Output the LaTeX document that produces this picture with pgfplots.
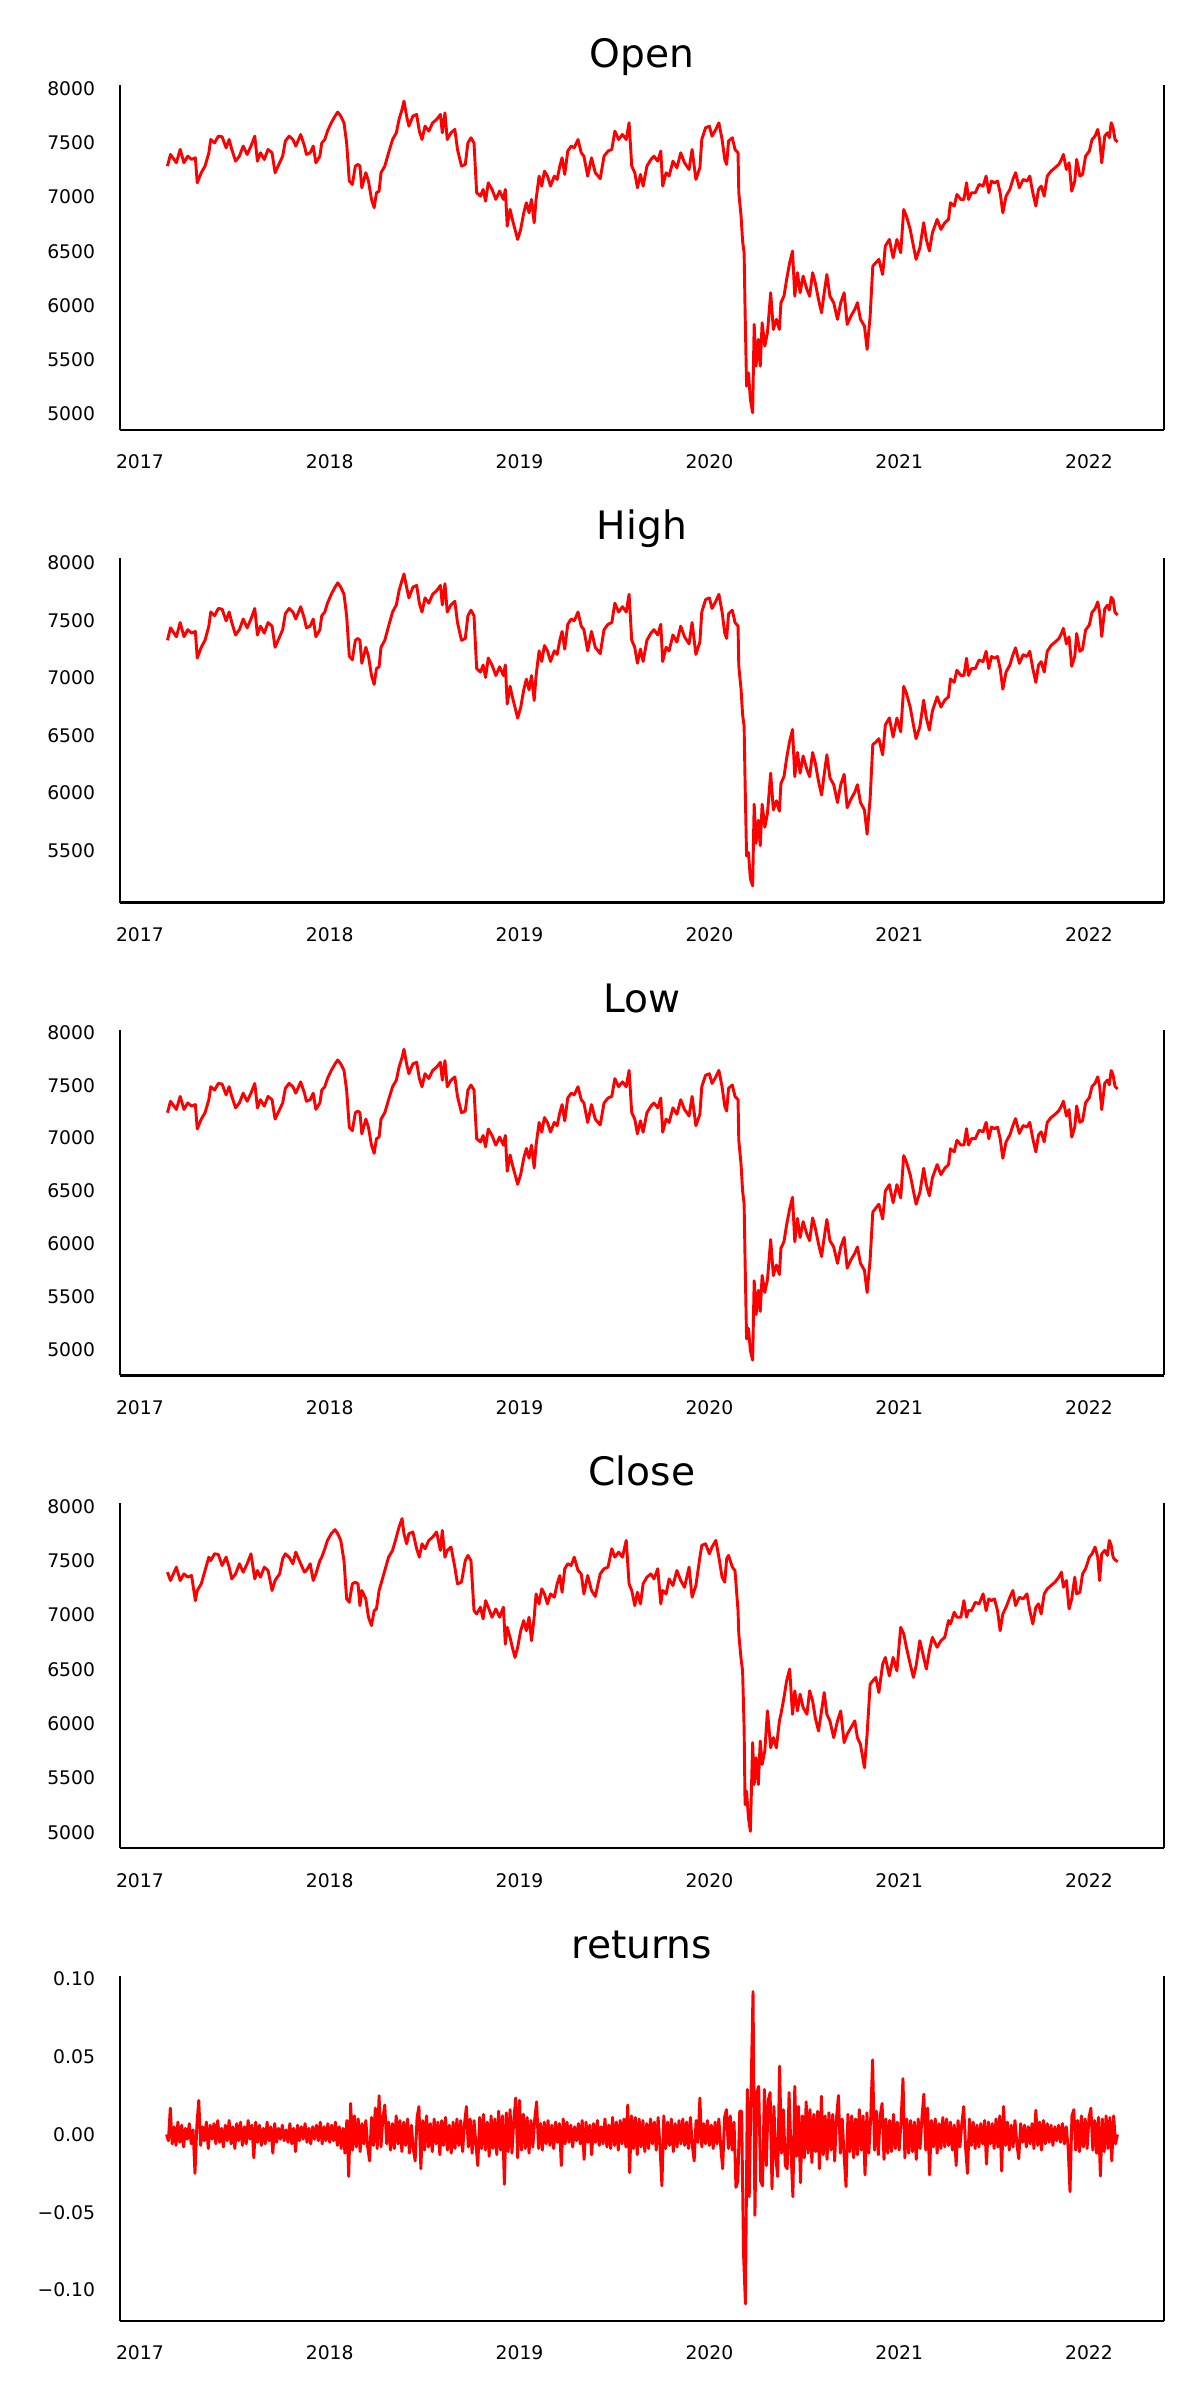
\documentclass[border=0pt]{standalone}
\usepackage{fontspec}
\setmainfont{DejaVu Sans}
\usepackage{pgfplots}
\usepackage{pgfplotstable}
\pgfplotsset{compat=1.18}

\pgfplotstableread{
x o h l c
2017.145 7286 7326 7241 7394
2017.161 7394 7434 7349 7317
2017.192 7317 7357 7272 7440
2017.212 7440 7480 7395 7317
2017.232 7317 7357 7272 7378
2017.252 7378 7418 7333 7348
2017.272 7348 7388 7303 7363
2017.292 7363 7403 7318 7132
2017.302 7132 7172 7087 7225
2017.323 7225 7265 7180 7286
2017.343 7286 7326 7241 7409
2017.363 7409 7449 7364 7532
2017.373 7532 7572 7487 7500
2017.393 7500 7540 7455 7563
2017.413 7563 7603 7518 7557
2017.433 7557 7597 7512 7455
2017.454 7455 7495 7410 7532
2017.470 7532 7572 7487 7440
2017.484 7440 7480 7395 7332
2017.504 7332 7372 7287 7378
2017.524 7378 7418 7333 7471
2017.544 7471 7511 7426 7394
2017.565 7394 7434 7349 7471
2017.585 7471 7511 7426 7563
2017.605 7563 7603 7518 7332
2017.619 7332 7372 7287 7409
2017.635 7409 7449 7364 7348
2017.655 7348 7388 7303 7440
2017.675 7440 7480 7395 7409
2017.696 7409 7449 7364 7225
2017.712 7225 7265 7180 7317
2017.736 7317 7357 7272 7378
2017.752 7378 7418 7333 7517
2017.766 7517 7557 7472 7563
2017.786 7563 7603 7518 7532
2017.806 7532 7572 7487 7471
2017.821 7471 7511 7426 7578
2017.847 7578 7618 7533 7471
2017.867 7471 7511 7426 7394
2017.877 7394 7434 7349 7409
2017.897 7409 7449 7364 7471
2017.913 7471 7511 7426 7317
2017.927 7317 7357 7272 7378
2017.948 7378 7418 7333 7500
2017.958 7500 7540 7455 7532
2017.974 7532 7572 7487 7609
2017.988 7609 7649 7564 7686
2018.008 7686 7726 7641 7748
2018.028 7748 7788 7703 7785
2018.042 7785 7825 7740 7748
2018.058 7748 7788 7703 7686
2018.075 7686 7726 7641 7500
2018.089 7500 7540 7455 7148
2018.103 7148 7188 7103 7117
2018.119 7117 7157 7072 7286
2018.135 7286 7326 7241 7302
2018.149 7302 7342 7257 7286
2018.159 7286 7326 7241 7086
2018.169 7086 7126 7041 7225
2018.190 7225 7265 7180 7148
2018.204 7148 7188 7103 6979
2018.220 6979 7019 6934 6902
2018.234 6902 6942 6857 7040
2018.246 7040 7080 6995 7055
2018.260 7055 7095 7010 7225
2018.270 7225 7265 7180 7286
2018.290 7286 7326 7241 7409
2018.310 7409 7449 7364 7532
2018.331 7532 7572 7487 7594
2018.351 7594 7634 7549 7717
2018.365 7717 7757 7672 7809
2018.381 7809 7849 7764 7886
2018.391 7886 7903 7841 7748
2018.405 7748 7788 7703 7655
2018.417 7655 7695 7610 7748
2018.438 7748 7788 7703 7763
2018.458 7763 7803 7718 7609
2018.472 7609 7649 7564 7532
2018.486 7532 7572 7487 7655
2018.502 7655 7695 7610 7609
2018.522 7609 7649 7564 7686
2018.542 7686 7726 7641 7717
2018.563 7717 7757 7672 7763
2018.583 7763 7803 7718 7594
2018.593 7594 7634 7549 7778
2018.607 7778 7818 7733 7532
2018.619 7532 7572 7487 7594
2018.639 7594 7634 7549 7625
2018.659 7625 7665 7580 7440
2018.673 7440 7480 7395 7286
2018.694 7286 7326 7241 7302
2018.714 7302 7342 7257 7500
2018.728 7500 7540 7455 7548
2018.744 7548 7588 7503 7500
2018.760 7500 7540 7455 7040
2018.774 7040 7080 6995 7009
2018.794 7009 7049 6964 7071
2018.808 7071 7111 7026 6963
2018.821 6963 7003 6918 7132
2018.835 7132 7172 7087 7071
2018.855 7071 7111 7026 6979
2018.875 6979 7019 6934 7055
2018.895 7055 7095 7010 6979
2018.915 6979 7019 6934 7071
2018.925 7071 7111 7026 6732
2018.935 6732 6772 6687 6886
2018.950 6886 6926 6841 6794
2018.962 6794 6834 6749 6702
2018.976 6702 6742 6657 6609
2018.990 6609 6649 6564 6702
2019.006 6702 6742 6657 6855
2019.022 6855 6895 6810 6948
2019.036 6948 6988 6903 6855
2019.050 6855 6895 6810 6979
2019.063 6979 7019 6934 6763
2019.077 6763 6803 6718 6979
2019.087 6979 7019 6934 7194
2019.103 7194 7234 7149 7102
2019.117 7102 7142 7057 7240
2019.131 7240 7280 7195 7194
2019.147 7194 7234 7149 7102
2019.163 7102 7142 7057 7194
2019.183 7194 7234 7149 7163
2019.198 7163 7203 7118 7286
2019.212 7286 7326 7241 7363
2019.224 7363 7403 7318 7209
2019.238 7209 7249 7164 7425
2019.254 7425 7465 7380 7471
2019.272 7471 7511 7426 7455
2019.288 7455 7495 7410 7532
2019.308 7532 7572 7487 7409
2019.325 7409 7449 7364 7378
2019.339 7378 7418 7333 7194
2019.359 7194 7234 7149 7363
2019.379 7363 7403 7318 7225
2019.399 7225 7265 7180 7170
2019.425 7170 7210 7125 7378
2019.445 7378 7418 7333 7425
2019.466 7425 7465 7380 7440
2019.486 7440 7480 7395 7609
2019.502 7609 7649 7564 7532
2019.522 7532 7572 7487 7578
2019.542 7578 7618 7533 7532
2019.562 7532 7572 7487 7686
2019.577 7686 7726 7641 7286
2019.591 7286 7326 7241 7225
2019.607 7225 7265 7180 7086
2019.621 7086 7126 7041 7209
2019.637 7209 7249 7164 7102
2019.651 7102 7142 7057 7286
2019.671 7286 7326 7241 7348
2019.692 7348 7388 7303 7378
2019.708 7378 7418 7333 7332
2019.728 7332 7372 7287 7425
2019.744 7425 7465 7380 7102
2019.754 7102 7142 7057 7225
2019.772 7225 7265 7180 7194
2019.788 7194 7234 7149 7332
2019.808 7332 7372 7287 7271
2019.829 7271 7311 7226 7409
2019.849 7409 7449 7364 7317
2019.869 7317 7357 7272 7255
2019.893 7255 7295 7210 7440
2019.909 7440 7480 7395 7163
2019.929 7163 7203 7118 7271
2019.950 7271 7311 7226 7532
2019.960 7532 7572 7487 7640
2019.980 7640 7680 7595 7655
2020.000 7655 7695 7610 7563
2020.014 7563 7603 7518 7625
2020.034 7625 7665 7580 7686
2020.050 7686 7726 7641 7532
2020.067 7532 7572 7487 7348
2020.081 7348 7388 7303 7302
2020.091 7302 7342 7257 7517
2020.101 7517 7557 7472 7548
2020.121 7548 7588 7503 7440
2020.135 7440 7480 7395 7409
2020.151 7409 7449 7364 7040
2020.155 7040 7100 6980 6825
2020.167 6825 6900 6750 6594
2020.175 6594 6680 6500 6486
2020.183 6486 6580 6380 5963
2020.188 5963 6100 5850 5255
2020.196 5255 5450 5100 5378
2020.206 5378 5480 5200 5132
2020.216 5132 5250 4990 5009
2020.228 5009 5190 4900 5825
2020.236 5825 5900 5650 5440
2020.246 5440 5560 5330 5686
2020.258 5686 5760 5560 5440
2020.268 5440 5540 5360 5840
2020.278 5840 5900 5700 5625
2020.292 5625 5700 5540 5748
2020.306 5748 5820 5660 6117
2020.323 6117 6170 6040 5778
2020.337 5778 5850 5700 5871
2020.353 5871 5930 5800 5778
2020.369 5778 5840 5710 6025
2020.377 6025 6080 5960 6086
2020.393 6086 6140 6020 6240
2020.407 6240 6300 6180 6394
2020.423 6394 6450 6330 6502
2020.438 6502 6550 6440 6086
2020.450 6086 6140 6020 6302
2020.464 6302 6350 6240 6117
2020.478 6117 6170 6060 6271
2020.494 6271 6320 6210 6148
2020.514 6148 6200 6090 6086
2020.528 6086 6140 6030 6302
2020.544 6302 6350 6245 6209
2020.558 6209 6260 6150 6055
2020.575 6055 6100 6000 5932
2020.591 5932 5980 5880 6117
2020.605 6117 6160 6060 6286
2020.619 6286 6330 6230 6086
2020.635 6086 6130 6030 6025
2020.655 6025 6070 5970 5871
2020.675 5871 5915 5815 6025
2020.692 6025 6070 5970 6117
2020.710 6117 6160 6060 5825
2020.726 5825 5870 5770 5902
2020.746 5902 5945 5850 5963
2020.766 5963 6005 5910 6025
2020.780 6025 6070 5970 5871
2020.796 5871 5915 5815 5809
2020.817 5809 5850 5750 5594
2020.831 5594 5640 5540 5902
2020.847 5902 5950 5850 6363
2020.861 6363 6420 6300 6394
2020.877 6394 6440 6340 6425
2020.893 6425 6470 6375 6286
2020.913 6286 6330 6235 6548
2020.927 6548 6590 6500 6609
2020.948 6609 6650 6560 6440
2020.968 6440 6485 6390 6609
2020.988 6609 6650 6560 6486
2021.008 6486 6530 6435 6886
2021.024 6886 6925 6835 6825
2021.038 6825 6865 6775 6702
2021.058 6702 6745 6655 6548
2021.075 6548 6590 6500 6425
2021.089 6425 6470 6375 6532
2021.109 6532 6575 6485 6763
2021.129 6763 6805 6715 6609
2021.143 6609 6650 6560 6502
2021.159 6502 6545 6455 6671
2021.175 6671 6710 6625 6794
2021.200 6794 6835 6750 6702
2021.220 6702 6745 6655 6763
2021.240 6763 6805 6715 6794
2021.260 6794 6835 6750 6948
2021.270 6948 6990 6900 6917
2021.290 6917 6960 6870 7025
2021.304 7025 7065 6980 6979
2021.325 6979 7020 6935 6979
2021.341 6979 7020 6935 7132
2021.355 7132 7170 7090 6979
2021.365 6979 7020 6935 7040
2021.381 7040 7080 6995 7040
2021.401 7040 7080 6995 7117
2021.421 7117 7155 7075 7102
2021.442 7102 7140 7060 7194
2021.458 7194 7230 7150 7040
2021.472 7040 7080 6995 7148
2021.486 7148 7185 7105 7132
2021.502 7132 7170 7090 7148
2021.518 7148 7185 7105 7040
2021.532 7040 7080 6995 6855
2021.546 6855 6900 6810 7009
2021.563 7009 7050 6965 7071
2021.583 7071 7110 7030 7163
2021.599 7163 7200 7120 7225
2021.613 7225 7260 7185 7086
2021.633 7086 7125 7045 7163
2021.653 7163 7200 7120 7148
2021.673 7148 7185 7105 7194
2021.688 7194 7230 7150 7040
2021.704 7040 7080 6995 6917
2021.720 6917 6960 6870 7071
2021.734 7071 7110 7030 7102
2021.748 7102 7140 7060 7009
2021.764 7009 7050 6965 7194
2021.780 7194 7230 7150 7240
2021.800 7240 7280 7195 7271
2021.821 7271 7310 7225 7302
2021.841 7302 7340 7260 7348
2021.855 7348 7385 7305 7394
2021.865 7394 7430 7350 7255
2021.881 7255 7295 7210 7317
2021.895 7317 7355 7270 7055
2021.909 7055 7100 7010 7148
2021.925 7148 7185 7105 7348
2021.935 7348 7385 7305 7194
2021.952 7194 7230 7150 7209
2021.966 7209 7250 7165 7378
2021.982 7378 7415 7335 7425
2022.002 7425 7460 7385 7532
2022.016 7532 7570 7490 7563
2022.032 7563 7600 7520 7625
2022.046 7625 7660 7580 7532
2022.056 7532 7570 7490 7317
2022.067 7317 7360 7270 7563
2022.083 7563 7600 7520 7594
2022.097 7594 7630 7550 7548
2022.107 7548 7590 7505 7686
2022.117 7686 7700 7640 7640
2022.127 7640 7680 7595 7532
2022.137 7532 7570 7490 7508
2022.151 7508 7545 7465 7490
}\prices

\pgfplotsset{
  panel/.style={
    scale only axis, width=250.56pt, height=82.8pt,
    anchor=south west,
    xmin=2016.895, xmax=2022.395,
    axis x line*=bottom, axis y line*=box,
    axis line style={black, line width=0.6pt},
    major tick length=0pt, minor tick num=0,
    xtick={2017,2018,2019,2020,2021,2022},
    xticklabels={2017,2018,2019,2020,2021,2022},
    tick label style={font=\fontsize{4.5}{5}\selectfont},
    xticklabel style={inner sep=0pt, anchor=north},
    yticklabel style={inner sep=0pt, anchor=east},
    xticklabel shift=5.8pt, yticklabel shift=5.8pt,
    /pgf/number format/assume math mode=true,
    /pgf/number format/1000 sep={},
    title style={font=\fontsize{9.4}{11}\selectfont, at={(0.5,1)}, anchor=base, yshift=-1.7pt, inner sep=0pt},
  },
  redline/.style={red, line width=0.7pt, no markers, line join=round},
}

\begin{document}
\begin{tikzpicture}
\useasboundingbox (0,0) rectangle (288pt,576pt);

\begin{axis}[panel, at={(28.8pt,472.8pt)}, title={Open},
  ymin=4850, ymax=8035, ytick={5000,5500,6000,6500,7000,7500,8000}]
\addplot[redline] table[x=x, y=o] {\prices};
\end{axis}

\begin{axis}[panel, at={(28.8pt,359.34pt)}, title={High},
  ymin=5043, ymax=8044, ytick={5500,6000,6500,7000,7500,8000}]
\addplot[redline] table[x=x, y=h] {\prices};
\end{axis}

\begin{axis}[panel, at={(28.8pt,245.88pt)}, title={Low},
  ymin=4754, ymax=8019, ytick={5000,5500,6000,6500,7000,7500,8000}]
\addplot[redline] table[x=x, y=l] {\prices};
\end{axis}

\begin{axis}[panel, at={(28.8pt,132.42pt)}, title={Close},
  ymin=4853, ymax=8028, ytick={5000,5500,6000,6500,7000,7500,8000}]
\addplot[redline] table[x=x, y=c] {\prices};
\end{axis}

\begin{axis}[panel, at={(28.8pt,18.96pt)}, title={returns},
  ymin=-0.120, ymax=0.102, ytick={-0.1,-0.05,0,0.05,0.1},
  yticklabels={−0.10,−0.05,0.00,0.05,0.10}]
\addplot[redline] coordinates {
(2017.14,0.000) (2017.15,-0.004) (2017.16,0.017) (2017.17,-0.006) (2017.18,0.005) (2017.19,-0.007)
(2017.20,0.008) (2017.21,-0.005) (2017.22,0.006) (2017.23,-0.008) (2017.24,0.004) (2017.25,-0.003)
(2017.26,0.007) (2017.27,-0.006) (2017.28,0.003) (2017.29,-0.025) (2017.30,0.006) (2017.31,0.022)
(2017.32,-0.007) (2017.33,0.005) (2017.34,-0.004) (2017.35,0.008) (2017.36,-0.009) (2017.37,0.006)
(2017.38,-0.003) (2017.39,0.007) (2017.40,-0.006) (2017.41,0.009) (2017.42,-0.005) (2017.43,0.004)
(2017.44,-0.008) (2017.45,0.006) (2017.46,-0.004) (2017.47,0.009) (2017.48,-0.006) (2017.49,0.005)
(2017.50,-0.009) (2017.51,0.007) (2017.52,-0.004) (2017.53,0.008) (2017.54,-0.007) (2017.55,0.005)
(2017.56,-0.006) (2017.57,0.009) (2017.58,-0.003) (2017.59,0.006) (2017.60,-0.015) (2017.61,0.008)
(2017.62,-0.005) (2017.63,0.006) (2017.64,-0.007) (2017.65,0.004) (2017.66,-0.006) (2017.67,0.008)
(2017.68,-0.004) (2017.69,0.005) (2017.70,-0.012) (2017.71,0.007) (2017.72,-0.005) (2017.73,0.004)
(2017.74,-0.003) (2017.75,0.006) (2017.76,-0.004) (2017.77,0.003) (2017.78,-0.005) (2017.79,0.007)
(2017.80,-0.006) (2017.81,0.004) (2017.82,-0.011) (2017.83,0.006) (2017.84,-0.004) (2017.85,0.005)
(2017.86,-0.003) (2017.87,0.007) (2017.88,-0.005) (2017.89,0.004) (2017.90,-0.006) (2017.91,0.005)
(2017.92,-0.003) (2017.93,0.006) (2017.94,-0.004) (2017.95,0.008) (2017.96,-0.006) (2017.97,0.005)
(2017.98,-0.004) (2017.99,0.007) (2018.00,-0.005) (2018.01,0.006) (2018.02,-0.004) (2018.03,0.008)
(2018.04,-0.007) (2018.05,0.005) (2018.06,-0.009) (2018.07,0.004) (2018.08,-0.012) (2018.09,0.009)
(2018.10,-0.027) (2018.11,0.020) (2018.12,-0.010) (2018.13,0.012) (2018.14,-0.008) (2018.15,0.010)
(2018.16,-0.011) (2018.17,0.007) (2018.18,-0.006) (2018.19,0.009) (2018.20,-0.008) (2018.21,-0.017)
(2018.22,0.011) (2018.23,-0.007) (2018.24,0.017) (2018.25,-0.009) (2018.26,0.025) (2018.27,-0.008)
(2018.28,0.011) (2018.29,0.019) (2018.30,-0.006) (2018.31,0.008) (2018.32,-0.010) (2018.33,0.007)
(2018.34,-0.009) (2018.35,0.012) (2018.36,-0.006) (2018.37,0.009) (2018.38,-0.011) (2018.39,0.008)
(2018.40,-0.007) (2018.41,0.010) (2018.42,-0.012) (2018.43,0.006) (2018.44,-0.009) (2018.45,-0.017)
(2018.46,0.011) (2018.47,0.018) (2018.48,-0.022) (2018.49,0.009) (2018.50,-0.010) (2018.51,0.012)
(2018.52,-0.008) (2018.53,0.007) (2018.54,-0.011) (2018.55,0.010) (2018.56,-0.006) (2018.57,0.008)
(2018.58,-0.013) (2018.59,0.009) (2018.60,-0.007) (2018.61,0.011) (2018.62,-0.010) (2018.63,0.006)
(2018.64,-0.012) (2018.65,0.008) (2018.66,-0.009) (2018.67,0.010) (2018.68,-0.007) (2018.69,0.009)
(2018.70,-0.011) (2018.71,0.007) (2018.72,0.018) (2018.73,-0.008) (2018.74,0.010) (2018.75,-0.012)
(2018.76,0.009) (2018.77,-0.006) (2018.78,-0.020) (2018.79,0.011) (2018.80,-0.009) (2018.81,0.013)
(2018.82,-0.010) (2018.83,0.008) (2018.84,-0.014) (2018.85,0.012) (2018.86,-0.009) (2018.87,0.010)
(2018.88,-0.013) (2018.89,0.015) (2018.90,-0.010) (2018.91,0.012) (2018.92,-0.032) (2018.93,0.014)
(2018.94,-0.011) (2018.95,0.016) (2018.96,-0.012) (2018.97,0.010) (2018.98,0.0235) (2018.99,-0.015)
(2019.00,0.022) (2019.01,-0.010) (2019.02,0.013) (2019.03,-0.009) (2019.04,0.011) (2019.05,-0.012)
(2019.06,0.009) (2019.07,-0.008) (2019.08,0.010) (2019.09,0.021) (2019.10,-0.009) (2019.11,0.007)
(2019.12,-0.010) (2019.13,0.008) (2019.14,-0.006) (2019.15,0.009) (2019.16,-0.007) (2019.17,0.006)
(2019.18,-0.009) (2019.19,0.008) (2019.20,-0.005) (2019.21,0.007) (2019.22,-0.020) (2019.23,0.010)
(2019.24,-0.006) (2019.25,0.008) (2019.26,-0.005) (2019.27,0.006) (2019.28,-0.008) (2019.29,0.005)
(2019.30,-0.004) (2019.31,0.007) (2019.32,-0.006) (2019.33,0.009) (2019.34,-0.016) (2019.35,0.008)
(2019.36,-0.005) (2019.37,0.006) (2019.38,-0.013) (2019.39,0.007) (2019.40,-0.005) (2019.41,0.009)
(2019.42,-0.007) (2019.43,0.005) (2019.44,-0.006) (2019.45,0.010) (2019.46,-0.008) (2019.47,0.006)
(2019.48,-0.009) (2019.49,0.011) (2019.50,-0.007) (2019.51,0.008) (2019.52,-0.010) (2019.53,0.009)
(2019.54,-0.006) (2019.55,0.010) (2019.56,-0.008) (2019.57,0.019) (2019.58,-0.0245) (2019.59,0.012)
(2019.60,-0.009) (2019.61,0.011) (2019.62,-0.013) (2019.63,0.010) (2019.64,-0.008) (2019.65,0.009)
(2019.66,-0.011) (2019.67,0.007) (2019.68,-0.009) (2019.69,0.010) (2019.70,-0.006) (2019.71,0.008)
(2019.72,-0.010) (2019.73,0.011) (2019.74,-0.008) (2019.75,-0.033) (2019.76,0.012) (2019.77,-0.009)
(2019.78,0.008) (2019.79,-0.007) (2019.80,0.010) (2019.81,-0.011) (2019.82,0.007) (2019.83,-0.008)
(2019.84,0.009) (2019.85,-0.006) (2019.86,0.010) (2019.87,-0.007) (2019.88,0.008) (2019.89,-0.009)
(2019.90,0.011) (2019.91,-0.007) (2019.92,-0.017) (2019.93,0.009) (2019.94,-0.005) (2019.95,0.0235)
(2019.96,-0.008) (2019.97,0.007) (2019.98,-0.006) (2019.99,0.009) (2020.00,-0.007) (2020.01,0.006)
(2020.02,-0.009) (2020.03,0.008) (2020.04,-0.006) (2020.05,0.010) (2020.06,-0.008) (2020.07,-0.022)
(2020.08,0.011) (2020.09,0.016) (2020.10,-0.009) (2020.11,0.012) (2020.12,-0.010) (2020.13,0.008)
(2020.14,-0.034) (2020.15,-0.030) (2020.16,0.015) (2020.17,0.015) (2020.18,-0.077) (2020.19,-0.109)
(2020.20,0.029) (2020.21,-0.040) (2020.22,0.030) (2020.23,0.092) (2020.24,-0.052) (2020.25,0.027)
(2020.26,0.031) (2020.27,-0.030) (2020.28,-0.033) (2020.29,0.029) (2020.30,-0.020) (2020.31,0.022)
(2020.32,0.027) (2020.33,-0.035) (2020.34,0.018) (2020.35,-0.015) (2020.36,-0.027) (2020.37,0.044)
(2020.38,-0.012) (2020.39,0.016) (2020.40,-0.020) (2020.41,-0.022) (2020.42,0.027) (2020.43,-0.010)
(2020.44,-0.040) (2020.45,0.031) (2020.46,-0.014) (2020.47,0.018) (2020.48,-0.031) (2020.49,0.012)
(2020.50,-0.015) (2020.51,0.021) (2020.52,-0.012) (2020.53,0.016) (2020.54,-0.018) (2020.55,0.013)
(2020.56,-0.011) (2020.57,0.015) (2020.58,-0.022) (2020.59,0.0246) (2020.60,-0.013) (2020.61,0.012)
(2020.62,-0.016) (2020.63,0.014) (2020.64,-0.010) (2020.65,0.013) (2020.66,-0.017) (2020.67,0.011)
(2020.68,0.025) (2020.69,-0.012) (2020.70,0.010) (2020.71,-0.014) (2020.72,-0.0335) (2020.73,0.013)
(2020.74,-0.011) (2020.75,0.012) (2020.76,-0.015) (2020.77,0.010) (2020.78,-0.013) (2020.79,0.016)
(2020.80,-0.010) (2020.81,0.012) (2020.82,-0.026) (2020.83,0.014) (2020.84,-0.012) (2020.85,0.011)
(2020.86,0.048) (2020.87,-0.010) (2020.88,0.015) (2020.89,-0.013) (2020.90,0.012) (2020.91,0.020)
(2020.92,-0.016) (2020.93,0.010) (2020.94,-0.012) (2020.95,0.009) (2020.96,-0.011) (2020.97,0.013)
(2020.98,-0.009) (2020.99,0.008) (2021.00,-0.010) (2021.01,0.009) (2021.02,0.036) (2021.03,-0.015)
(2021.04,0.010) (2021.05,-0.012) (2021.06,0.009) (2021.07,-0.011) (2021.08,0.008) (2021.09,-0.016)
(2021.10,0.010) (2021.11,-0.009) (2021.12,0.011) (2021.13,0.026) (2021.14,-0.010) (2021.15,0.017)
(2021.16,-0.026) (2021.17,0.009) (2021.18,-0.008) (2021.19,0.010) (2021.20,-0.012) (2021.21,0.007)
(2021.22,-0.009) (2021.23,0.011) (2021.24,-0.008) (2021.25,0.010) (2021.26,-0.007) (2021.27,0.008)
(2021.28,-0.010) (2021.29,0.006) (2021.30,-0.020) (2021.31,0.009) (2021.32,-0.008) (2021.33,0.007)
(2021.34,0.018) (2021.35,-0.009) (2021.36,-0.025) (2021.37,0.010) (2021.38,-0.007) (2021.39,0.008)
(2021.40,-0.009) (2021.41,0.006) (2021.42,-0.008) (2021.43,0.007) (2021.44,-0.006) (2021.45,0.009)
(2021.46,-0.019) (2021.47,0.008) (2021.48,-0.006) (2021.49,0.007) (2021.50,-0.009) (2021.51,0.010)
(2021.52,-0.008) (2021.53,0.012) (2021.54,-0.0235) (2021.55,0.018) (2021.56,-0.007) (2021.57,0.008)
(2021.58,-0.010) (2021.59,0.006) (2021.60,-0.008) (2021.61,0.009) (2021.62,-0.006) (2021.63,-0.0156)
(2021.64,0.007) (2021.65,-0.005) (2021.66,0.006) (2021.67,-0.008) (2021.68,0.005) (2021.69,-0.006)
(2021.70,0.007) (2021.71,-0.009) (2021.72,0.0156) (2021.73,-0.007) (2021.74,0.008) (2021.75,-0.010)
(2021.76,0.009) (2021.77,-0.006) (2021.78,0.007) (2021.79,-0.005) (2021.80,0.006) (2021.81,-0.007)
(2021.82,0.005) (2021.83,-0.004) (2021.84,0.006) (2021.85,-0.005) (2021.86,0.007) (2021.87,-0.006)
(2021.88,0.005) (2021.89,-0.008) (2021.90,-0.0368) (2021.91,0.012) (2021.92,0.016) (2021.93,-0.010)
(2021.94,0.009) (2021.95,-0.011) (2021.96,0.012) (2021.97,-0.008) (2021.98,0.010) (2021.99,-0.009)
(2022.00,0.011) (2022.01,0.017) (2022.02,-0.010) (2022.03,0.009) (2022.04,-0.012) (2022.05,0.011)
(2022.06,-0.0267) (2022.07,0.010) (2022.08,-0.011) (2022.09,0.012) (2022.10,-0.009) (2022.11,0.011)
(2022.12,-0.017) (2022.13,0.012) (2022.14,-0.006) (2022.15,0.000)
};
\end{axis}
\end{tikzpicture}
\end{document}
